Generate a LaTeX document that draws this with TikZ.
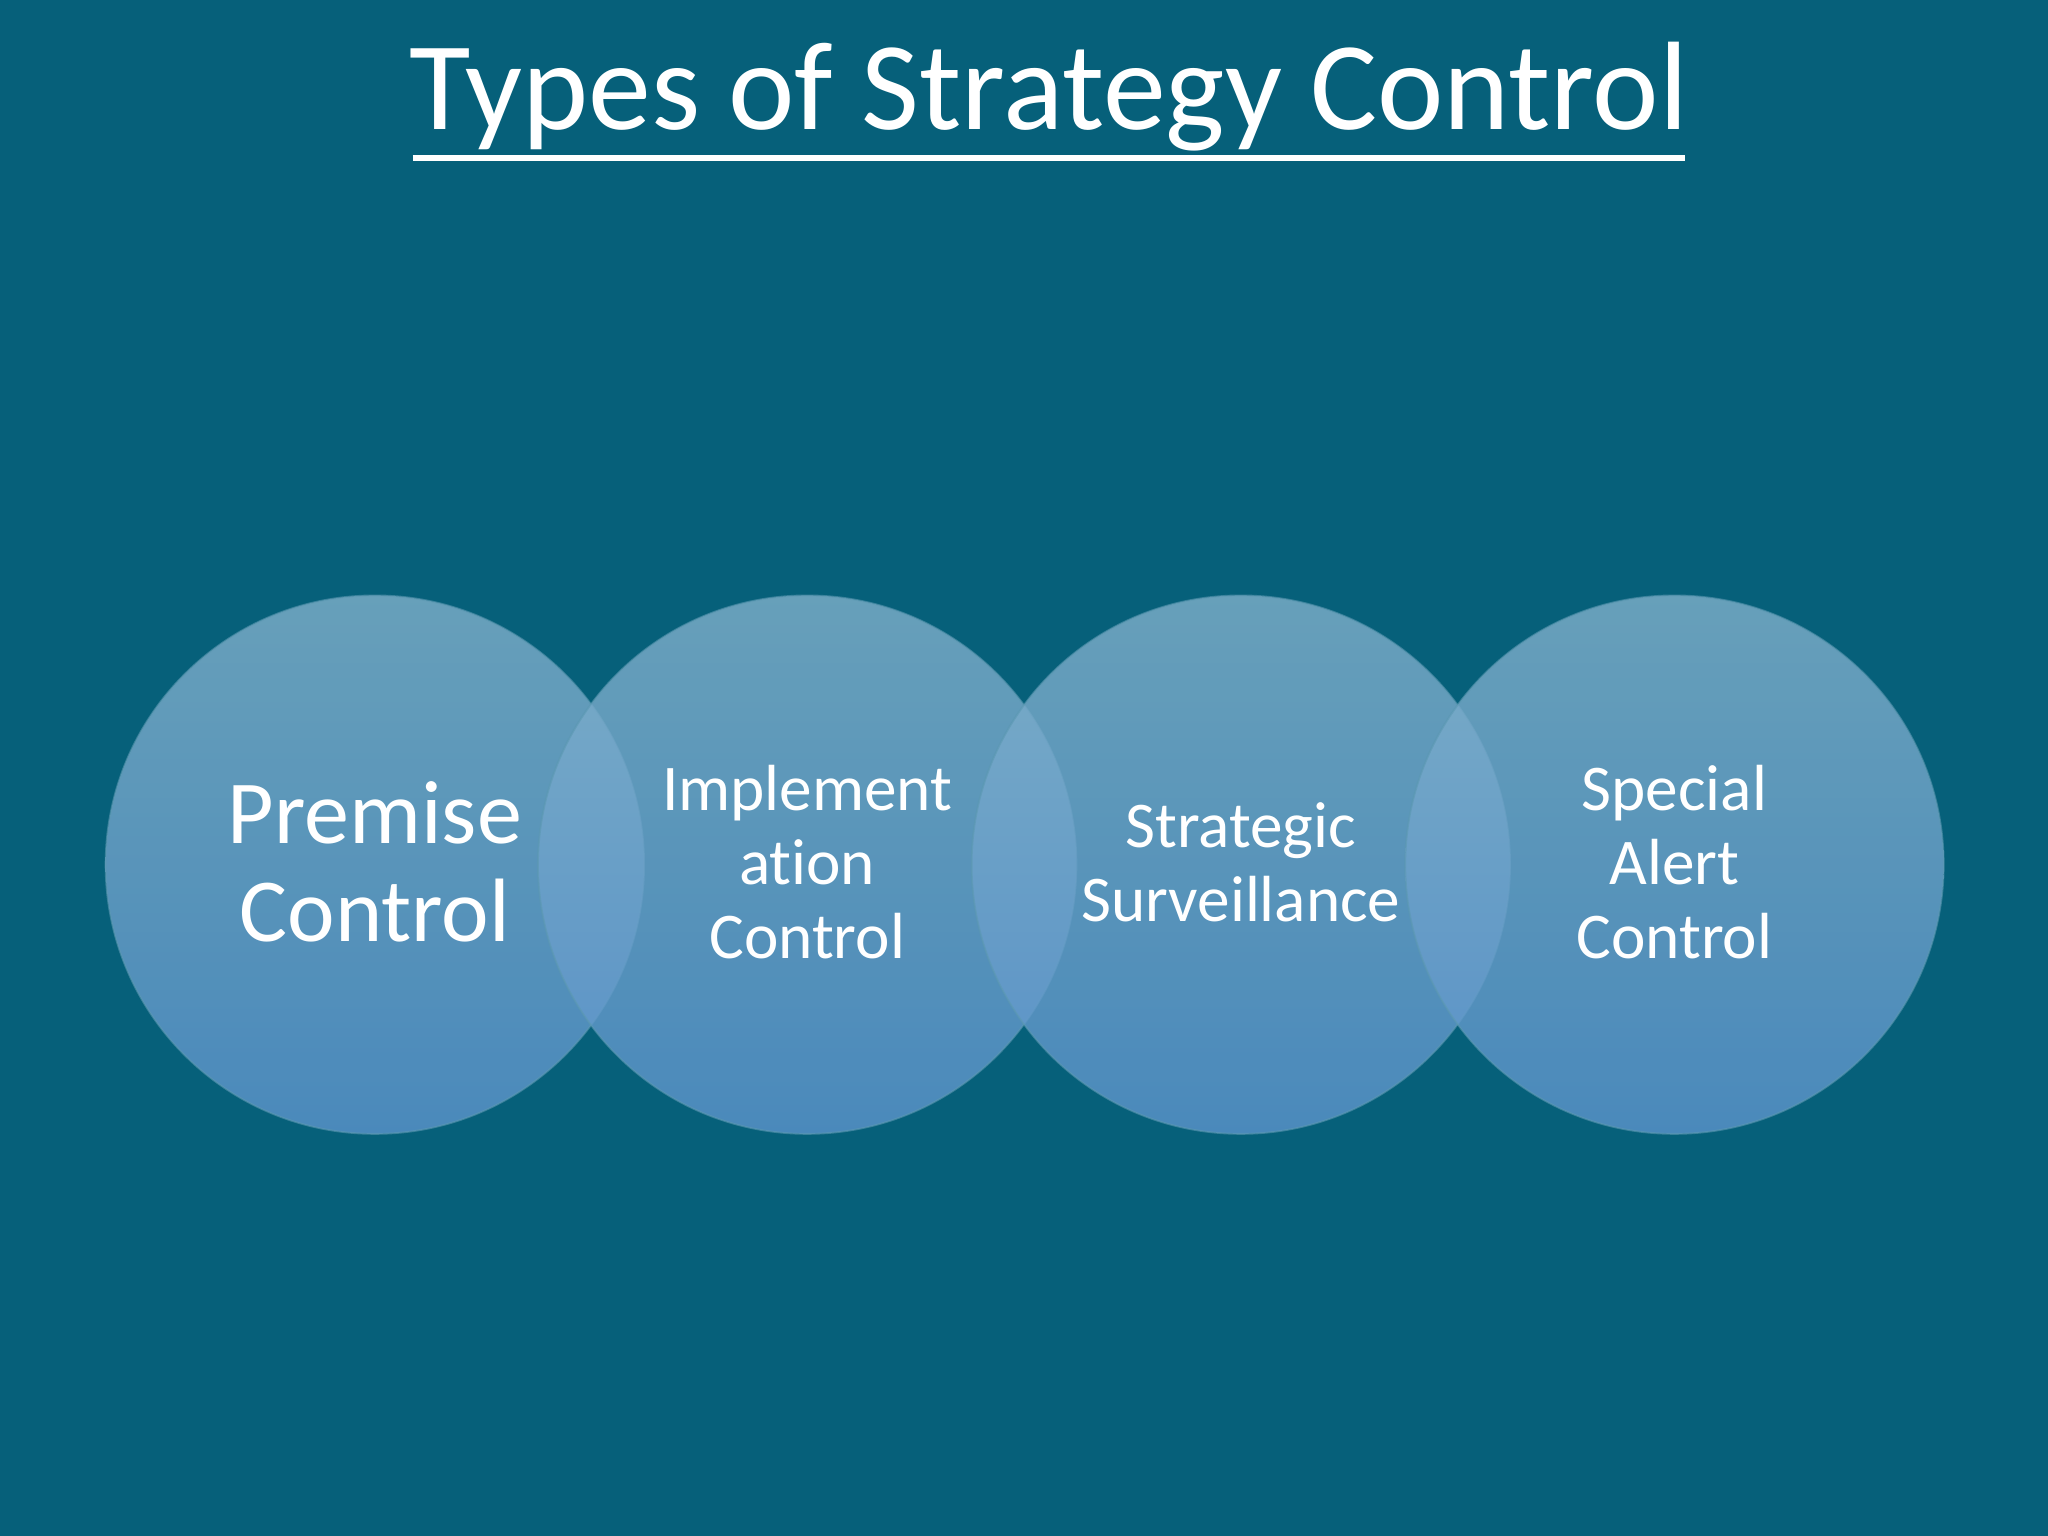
\documentclass[tikz,border=0pt]{standalone}
\usepackage{fontspec}
\setmainfont[Ligatures={NoCommon}]{Carlito}
\definecolor{bg}{HTML}{06607A}
\definecolor{ctop}{HTML}{80B0CA}
\definecolor{cbot}{HTML}{5C94CC}
\begin{document}
\begin{tikzpicture}[x=0.01cm,y=-0.01cm,
  circ/.style={circle,minimum size=4.12cm,inner sep=0pt,top color=ctop,bottom color=cbot,fill opacity=0.8,draw=ctop!70!bg,draw opacity=0.6},
  lab/.style={text=white,align=center,font=\fontsize{14.2}{16.2}\selectfont}]
\fill[bg] (0,0) rectangle (1568,1176);
\node[text=white,font=\fontsize{27.4}{32}\selectfont] (title) at (803,74) {Types of Strategy Control};
\draw[white,line width=1.2pt] (316,121) -- (1290,121);
\node[circ] (c1) at (287,662) {};
\node[circ] (c2) at (618,662) {};
\node[circ] (c3) at (950,662) {};
\node[circ] (c4) at (1282,662) {};
\node[lab,font=\fontsize{19.6}{21.3}\selectfont] (t1) at (287,660) {Premise\\Control};
\node[lab] (t2) at (618,660) {Implement\\ation\\Control};
\node[lab] (t3) at (950,660) {Strategic\\Surveillance};
\node[lab] (t4) at (1282,660) {Special\\Alert\\Control};
\end{tikzpicture}
\end{document}
